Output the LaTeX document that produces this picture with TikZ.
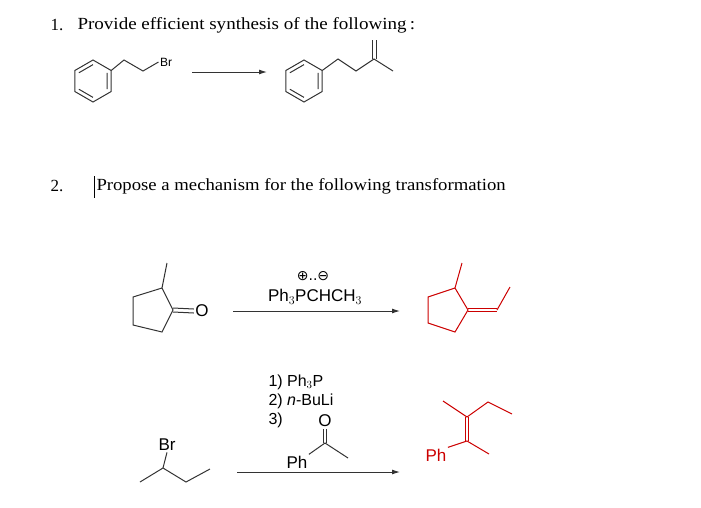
\documentclass[tikz,border=0pt]{standalone}
\usepackage{fontspec}
\setmainfont{Liberation Serif}
\setsansfont{Liberation Sans}
\newfontfamily\djv{DejaVu Sans}
\usetikzlibrary{calc,arrows.meta}
\begin{document}
\begin{tikzpicture}[x=1pt,y=-1pt,line width=1pt,
  bond/.style={draw=black!80},
  rbond/.style={draw=red!80!black},
  lab/.style={font=\sffamily\fontsize{17}{18}\selectfont,inner sep=1pt},
  hd/.style={font=\fontsize{17}{18}\selectfont,anchor=west,inner sep=0pt},
  arr/.style={-{Latex[length=8pt,width=5pt]},draw=black!80}]
\useasboundingbox (0,0) rectangle (701,507);
% headings
\node[hd] (h1n) at (50,25) {1.};
\node[hd] (h1) at (77,25) {\scalebox{1.12}[1]{Provide efficient synthesis of the following\,:}};
\node[hd] (h2n) at (50,186) {2.};
\node[hd] (h2) at (96,186) {\scalebox{1.1}[1]{Propose a mechanism for the following transformation}};
\draw[line width=0.6pt] (94,176) -- (94,198);
% benzenes
\foreach \n/\c in {A/93,B/304}{
 \path (\c,81) coordinate (\n0) +(90:-21) coordinate (\n1) +(30:-21) coordinate (\n2)
   +(-30:-21) coordinate (\n3) +(-90:-21) coordinate (\n4) +(210:-21) coordinate (\n5) +(150:-21) coordinate (\n6);
}
\foreach \n/\c in {A/93,B/304}{
 \draw[bond] (\n1)--(\n2)--(\n3)--(\n4)--(\n5)--(\n6)--cycle;
 \draw[bond] ($(\n0)!0.78!(\n1)$)--($(\n0)!0.78!(\n2)$) ($(\n0)!0.78!(\n3)$)--($(\n0)!0.78!(\n4)$) ($(\n0)!0.78!(\n5)$)--($(\n0)!0.78!(\n6)$);
}
\node[lab,font=\sffamily\fontsize{12}{13}\selectfont] (br1) at (166,62) {Br};
\coordinate (a1) at (124,60); \coordinate (a2) at (143,71);
\draw[bond] (A6)--(a1)--(a2)--(br1.west);
\coordinate (s1) at (192,72); \coordinate (s2) at (267,72);
\draw[arr] (s1)--(s2);
\coordinate (b1) at (338,59); \coordinate (b2) at (356,71); \coordinate (b3) at (374,59);
\coordinate (b4) at (374,40); \coordinate (b5) at (393,71);
\draw[bond] (B6)--(b1)--(b2)--(b3)--(b5);
\draw[bond] ([xshift=-2pt]b3)--([xshift=-2pt]b4) ([xshift=2pt]b3)--([xshift=2pt]b4);
% cyclopentanone
\coordinate (c1) at (162,288); \coordinate (c2) at (173,310); \coordinate (c3) at (162,332);
\coordinate (c4) at (133,325); \coordinate (c5) at (133,297); \coordinate (cm) at (167,263);
\node[lab] (O1) at (202,311) {O};
\draw[bond] (c1)--(c2)--(c3)--(c4)--(c5)--cycle (c1)--(cm);
\draw[bond] ([yshift=-2pt]c2)--([yshift=-2pt]O1.west) ([yshift=2pt]c2)--([yshift=2pt]O1.west);
\coordinate (r1) at (233,311); \coordinate (r2) at (400,311);
\draw[arr] (r1)--(r2);
\node[lab] (ylide) at (315,297) {Ph$_3$PCHCH$_3$};
\node[inner sep=0pt,font=\djv\fontsize{14}{15}\selectfont] (chg) at (313,276) {⊕..⊖};
% product red
\coordinate (d1) at (455,288); \coordinate (d2) at (468,310); \coordinate (d3) at (455,332);
\coordinate (d4) at (428,323); \coordinate (d5) at (428,297); \coordinate (dm) at (462,263);
\coordinate (d6) at (497,310); \coordinate (d7) at (510,287);
\draw[rbond] (d1)--(d2)--(d3)--(d4)--(d5)--cycle (d1)--(dm) (d6)--(d7);
\draw[rbond] ([yshift=-1.5pt]d2)--([yshift=-1.5pt]d6) ([yshift=1.5pt]d2)--([yshift=1.5pt]d6);
% bromide
\node[lab] (br2) at (167,445) {Br};
\coordinate (e1) at (163,468); \coordinate (e2) at (140,482); \coordinate (e3) at (186,482); \coordinate (e4) at (210,469);
\draw[bond] (br2.south)--(e1) (e2)--(e1)--(e3)--(e4);
\coordinate (t1) at (237,472); \coordinate (t2) at (400,472);
\draw[arr] (t1)--(t2);
\node[lab,align=left,anchor=north west,font=\sffamily\fontsize{16}{19}\selectfont] (rg) at (267,373) {1) Ph$_3$P\\2) \textit{n}-BuLi\\3)};
\node[lab] (O2) at (325,421) {O};
\coordinate (k1) at (325,443); \coordinate (k2) at (348,458);
\node[lab] (ph1) at (297,462) {Ph};
\draw[bond] (ph1.north east)--(k1)--(k2);
\draw[bond] ([xshift=-1.6pt]k1)--([xshift=-1.6pt]O2.south) ([xshift=1.6pt]k1)--([xshift=1.6pt]O2.south);
% product 2 red
\coordinate (p1) at (467,417); \coordinate (p2) at (467,441);
\coordinate (p3) at (443,401); \coordinate (p4) at (488,402); \coordinate (p5) at (512,414); \coordinate (p6) at (489,454);
\node[lab,text=red!80!black] (ph2) at (436,455) {Ph};
\draw[rbond] (p3)--(p1)--(p4)--(p5) (ph2.north east)--(p2)--(p6);
\draw[rbond] ([xshift=-1.6pt]p1)--([xshift=-1.6pt]p2) ([xshift=1.6pt]p1)--([xshift=1.6pt]p2);
\end{tikzpicture}
\end{document}
